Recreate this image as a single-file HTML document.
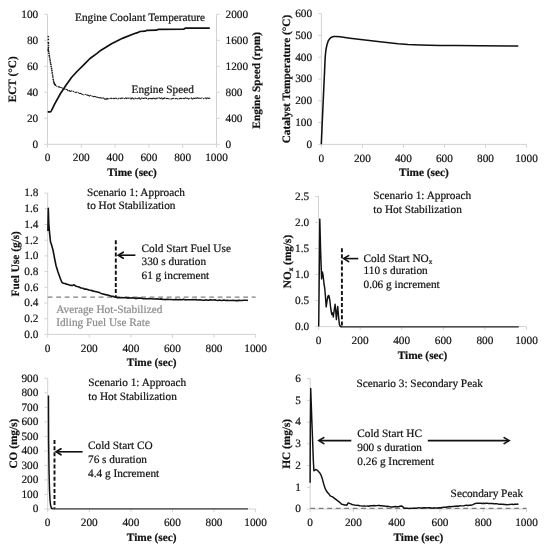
<!DOCTYPE html>
<html><head><meta charset="utf-8"><title>Cold start figure</title>
<style>
html,body{margin:0;padding:0;background:#fff}
svg{display:block}
text{text-rendering:geometricPrecision;stroke:#111;stroke-width:0.2px;font-family:"Liberation Serif",serif;font-size:11.3px;fill:#111}
</style></head>
<body>
<svg width="546" height="550" viewBox="0 0 546 550">
<rect width="546" height="550" fill="#fff"/>
<line x1="47.50" y1="14.30" x2="47.50" y2="144.30" stroke="#d2d2d2" stroke-width="1" />
<line x1="47.50" y1="144.30" x2="216.50" y2="144.30" stroke="#d2d2d2" stroke-width="1" />
<line x1="44.30" y1="144.30" x2="47.50" y2="144.30" stroke="#d2d2d2" stroke-width="1" />
<text x="38.20" y="147.60" text-anchor="end">0</text>
<line x1="44.30" y1="118.30" x2="47.50" y2="118.30" stroke="#d2d2d2" stroke-width="1" />
<text x="38.20" y="121.60" text-anchor="end">20</text>
<line x1="44.30" y1="92.30" x2="47.50" y2="92.30" stroke="#d2d2d2" stroke-width="1" />
<text x="38.20" y="95.60" text-anchor="end">40</text>
<line x1="44.30" y1="66.30" x2="47.50" y2="66.30" stroke="#d2d2d2" stroke-width="1" />
<text x="38.20" y="69.60" text-anchor="end">60</text>
<line x1="44.30" y1="40.30" x2="47.50" y2="40.30" stroke="#d2d2d2" stroke-width="1" />
<text x="38.20" y="43.60" text-anchor="end">80</text>
<line x1="44.30" y1="14.30" x2="47.50" y2="14.30" stroke="#d2d2d2" stroke-width="1" />
<text x="38.20" y="17.60" text-anchor="end">100</text>
<line x1="47.50" y1="144.30" x2="47.50" y2="147.50" stroke="#d2d2d2" stroke-width="1" />
<text x="47.50" y="161.40" text-anchor="middle">0</text>
<line x1="81.30" y1="144.30" x2="81.30" y2="147.50" stroke="#d2d2d2" stroke-width="1" />
<text x="81.30" y="161.40" text-anchor="middle">200</text>
<line x1="115.10" y1="144.30" x2="115.10" y2="147.50" stroke="#d2d2d2" stroke-width="1" />
<text x="115.10" y="161.40" text-anchor="middle">400</text>
<line x1="148.90" y1="144.30" x2="148.90" y2="147.50" stroke="#d2d2d2" stroke-width="1" />
<text x="148.90" y="161.40" text-anchor="middle">600</text>
<line x1="182.70" y1="144.30" x2="182.70" y2="147.50" stroke="#d2d2d2" stroke-width="1" />
<text x="182.70" y="161.40" text-anchor="middle">800</text>
<line x1="216.50" y1="144.30" x2="216.50" y2="147.50" stroke="#d2d2d2" stroke-width="1" />
<text x="216.50" y="161.40" text-anchor="middle">1000</text>
<text x="132.00" y="176.20" text-anchor="middle" font-weight="bold">Time (sec)</text>
<text x="16.30" y="79.30" text-anchor="middle" font-weight="bold" transform="rotate(-90 16.30 79.30)">ECT (°C)</text>
<line x1="216.50" y1="14.30" x2="216.50" y2="144.30" stroke="#d2d2d2" stroke-width="1" />
<line x1="216.50" y1="144.30" x2="219.70" y2="144.30" stroke="#d2d2d2" stroke-width="1" />
<text x="225.50" y="147.60">0</text>
<line x1="216.50" y1="118.30" x2="219.70" y2="118.30" stroke="#d2d2d2" stroke-width="1" />
<text x="225.50" y="121.60">400</text>
<line x1="216.50" y1="92.30" x2="219.70" y2="92.30" stroke="#d2d2d2" stroke-width="1" />
<text x="225.50" y="95.60">800</text>
<line x1="216.50" y1="66.30" x2="219.70" y2="66.30" stroke="#d2d2d2" stroke-width="1" />
<text x="225.50" y="69.60">1200</text>
<line x1="216.50" y1="40.30" x2="219.70" y2="40.30" stroke="#d2d2d2" stroke-width="1" />
<text x="225.50" y="43.60">1600</text>
<line x1="216.50" y1="14.30" x2="219.70" y2="14.30" stroke="#d2d2d2" stroke-width="1" />
<text x="225.50" y="17.60">2000</text>
<text x="260.30" y="80.30" text-anchor="middle" font-weight="bold" transform="rotate(-90 260.30 80.30)">Engine Speed (rpm)</text>
<text x="75.00" y="21.40">Engine Coolant Temperature</text>
<text x="131.50" y="93.00">Engine Speed</text>
<path d="M48.3,36.5h0M48.4,39.4h0M48.3,42.6h0M48.5,45.5h0M48.5,47.6h0M48.2,49.0h0M48.2,50.2h0M48.6,51.2h0M48.5,43.3h0M48.9,53.2h0M49.2,55.4h0M49.5,57.0h0M49.9,59.1h0M50.2,60.8h0M50.5,62.8h0M50.9,64.5h0M51.2,66.6h0M51.6,68.7h0M51.9,70.7h0M52.2,72.9h0M52.6,75.0h0M52.9,76.9h0M53.2,79.3h0M53.6,81.0h0M53.9,82.6h0M54.3,83.2h0M54.6,84.2h0M54.9,84.5h0M55.3,84.8h0" stroke="#1a1a1a" stroke-width="1.7" stroke-linecap="round" fill="none"/>
<path d="M55.6,85.4h0M56.8,86.2h0M58.3,86.9h0M59.2,86.6h0M60.0,87.4h0M61.2,87.6h0M62.4,88.1h0M63.6,88.6h0M64.2,88.9h0M65.1,89.2h0M66.6,89.4h0M67.4,90.0h0M68.1,90.8h0M69.3,90.3h0M70.0,91.4h0M70.7,91.1h0M71.8,90.9h0M73.4,91.4h0M74.9,92.2h0M75.9,92.6h0M76.9,92.2h0M78.4,92.8h0M79.6,93.4h0M80.5,93.3h0M81.5,93.8h0M82.3,94.4h0M83.8,94.8h0M85.4,94.3h0M86.9,95.0h0M87.7,95.2h0M88.7,95.4h0M89.4,96.1h0M90.4,95.3h0M91.9,95.9h0M93.0,96.6h0M94.0,96.6h0M94.7,96.4h0M95.3,96.7h0M96.5,97.1h0M97.5,97.2h0M98.5,97.6h0M99.6,97.8h0M100.2,97.6h0M101.1,98.0h0M102.1,98.1h0M103.3,97.9h0M104.3,98.7h0M105.1,99.3h0M106.0,98.5h0M106.8,99.3h0M107.5,98.5h0M108.3,98.8h0M109.9,98.6h0M110.9,98.2h0M111.9,98.5h0M113.4,98.5h0M114.6,98.5h0M115.8,98.2h0M116.6,98.3h0M118.1,98.9h0M119.0,98.2h0M120.5,98.5h0M121.4,98.2h0M122.4,98.2h0M123.0,98.2h0M124.6,98.6h0M125.7,97.9h0M126.4,98.5h0M127.3,98.1h0M128.5,98.2h0M130.0,98.0h0M131.0,99.0h0M131.7,98.4h0M132.3,98.0h0M133.4,98.6h0M134.0,98.9h0M135.2,98.1h0M136.1,98.5h0M137.6,98.7h0M138.6,98.2h0M139.4,97.9h0M140.1,99.0h0M140.8,98.8h0M141.8,98.0h0M143.0,98.4h0M143.8,98.4h0M144.7,98.1h0M145.9,98.0h0M146.5,98.4h0M148.1,98.9h0M148.7,98.7h0M149.9,98.4h0M151.1,98.7h0M151.9,98.5h0M152.6,98.7h0M153.5,98.1h0M154.5,98.3h0M155.2,98.9h0M156.2,98.1h0M156.8,98.7h0M158.0,98.0h0M159.5,98.0h0M160.7,98.5h0M161.7,97.9h0M162.4,98.9h0M163.4,98.5h0M164.1,98.3h0M164.8,98.0h0M166.3,98.5h0M167.2,98.4h0M168.3,98.7h0M169.9,98.9h0M171.4,98.9h0M172.6,98.5h0M173.7,98.3h0M175.3,98.7h0M176.4,98.3h0M177.6,98.9h0M179.2,98.8h0M180.0,98.3h0M180.8,98.4h0M181.9,98.5h0M183.4,98.4h0M184.6,98.5h0M185.6,97.9h0M186.8,98.2h0M187.8,98.3h0M188.6,98.9h0M189.8,98.3h0M191.3,97.9h0M192.0,98.8h0M192.7,98.9h0M193.5,98.1h0M194.5,98.4h0M195.5,98.2h0M196.2,98.2h0M196.9,98.2h0M197.6,97.8h0M198.6,98.2h0M199.8,98.2h0M200.8,98.3h0M202.0,97.8h0M203.5,98.7h0M205.0,98.2h0M206.0,98.0h0M206.7,98.8h0M207.7,97.9h0M208.7,98.4h0M209.7,98.2h0" stroke="#1a1a1a" stroke-width="1.3" stroke-linecap="round" fill="none"/>
<polyline points="47.70,111.90 50.60,111.90 51.60,110.40 55.00,103.40 60.50,93.50 66.00,85.20 71.50,77.50 77.00,71.50 84.70,63.80 90.00,58.50 96.70,53.60 101.00,50.20 112.00,43.60 123.00,38.10 134.00,33.70 137.50,32.60 138.50,32.30 140.00,31.50 145.00,31.20 147.00,30.30 156.40,30.20 158.50,29.30 183.60,29.20 185.20,28.20 209.80,28.10" fill="none" stroke="#111" stroke-width="1.7" stroke-linejoin="round" />
<line x1="321.40" y1="13.60" x2="321.40" y2="144.40" stroke="#d2d2d2" stroke-width="1" />
<line x1="321.40" y1="144.40" x2="526.50" y2="144.40" stroke="#d2d2d2" stroke-width="1" />
<line x1="318.20" y1="144.40" x2="321.40" y2="144.40" stroke="#d2d2d2" stroke-width="1" />
<text x="312.10" y="147.70" text-anchor="end">0</text>
<line x1="318.20" y1="122.60" x2="321.40" y2="122.60" stroke="#d2d2d2" stroke-width="1" />
<text x="312.10" y="125.90" text-anchor="end">100</text>
<line x1="318.20" y1="100.80" x2="321.40" y2="100.80" stroke="#d2d2d2" stroke-width="1" />
<text x="312.10" y="104.10" text-anchor="end">200</text>
<line x1="318.20" y1="79.00" x2="321.40" y2="79.00" stroke="#d2d2d2" stroke-width="1" />
<text x="312.10" y="82.30" text-anchor="end">300</text>
<line x1="318.20" y1="57.20" x2="321.40" y2="57.20" stroke="#d2d2d2" stroke-width="1" />
<text x="312.10" y="60.50" text-anchor="end">400</text>
<line x1="318.20" y1="35.40" x2="321.40" y2="35.40" stroke="#d2d2d2" stroke-width="1" />
<text x="312.10" y="38.70" text-anchor="end">500</text>
<line x1="318.20" y1="13.60" x2="321.40" y2="13.60" stroke="#d2d2d2" stroke-width="1" />
<text x="312.10" y="16.90" text-anchor="end">600</text>
<line x1="321.40" y1="144.40" x2="321.40" y2="147.60" stroke="#d2d2d2" stroke-width="1" />
<text x="321.40" y="161.50" text-anchor="middle">0</text>
<line x1="362.42" y1="144.40" x2="362.42" y2="147.60" stroke="#d2d2d2" stroke-width="1" />
<text x="362.42" y="161.50" text-anchor="middle">200</text>
<line x1="403.44" y1="144.40" x2="403.44" y2="147.60" stroke="#d2d2d2" stroke-width="1" />
<text x="403.44" y="161.50" text-anchor="middle">400</text>
<line x1="444.46" y1="144.40" x2="444.46" y2="147.60" stroke="#d2d2d2" stroke-width="1" />
<text x="444.46" y="161.50" text-anchor="middle">600</text>
<line x1="485.48" y1="144.40" x2="485.48" y2="147.60" stroke="#d2d2d2" stroke-width="1" />
<text x="485.48" y="161.50" text-anchor="middle">800</text>
<line x1="526.50" y1="144.40" x2="526.50" y2="147.60" stroke="#d2d2d2" stroke-width="1" />
<text x="526.50" y="161.50" text-anchor="middle">1000</text>
<text x="423.95" y="176.30" text-anchor="middle" font-weight="bold">Time (sec)</text>
<text x="290.10" y="79.00" text-anchor="middle" font-weight="bold" transform="rotate(-90 290.10 79.00)">Catalyst Temperature (°C)</text>
<polyline points="321.30,144.20 322.30,121.00 323.30,99.00 324.30,77.00 325.20,57.00 325.90,50.00 326.90,45.00 328.20,41.00 329.80,38.60 331.50,37.20 333.60,36.50 336.00,36.40 340.00,36.80 350.00,38.20 365.00,40.10 380.00,41.80 398.00,43.80 408.00,44.50 420.00,44.90 440.00,45.40 456.50,45.60 480.00,45.80 518.30,46.00" fill="none" stroke="#111" stroke-width="1.55" stroke-linejoin="round" />
<line x1="47.70" y1="193.10" x2="47.70" y2="334.40" stroke="#d2d2d2" stroke-width="1" />
<line x1="47.70" y1="334.40" x2="255.60" y2="334.40" stroke="#d2d2d2" stroke-width="1" />
<line x1="44.50" y1="334.40" x2="47.70" y2="334.40" stroke="#d2d2d2" stroke-width="1" />
<text x="38.40" y="337.70" text-anchor="end">0.0</text>
<line x1="44.50" y1="318.70" x2="47.70" y2="318.70" stroke="#d2d2d2" stroke-width="1" />
<text x="38.40" y="322.00" text-anchor="end">0.2</text>
<line x1="44.50" y1="303.00" x2="47.70" y2="303.00" stroke="#d2d2d2" stroke-width="1" />
<text x="38.40" y="306.30" text-anchor="end">0.4</text>
<line x1="44.50" y1="287.30" x2="47.70" y2="287.30" stroke="#d2d2d2" stroke-width="1" />
<text x="38.40" y="290.60" text-anchor="end">0.6</text>
<line x1="44.50" y1="271.60" x2="47.70" y2="271.60" stroke="#d2d2d2" stroke-width="1" />
<text x="38.40" y="274.90" text-anchor="end">0.8</text>
<line x1="44.50" y1="255.90" x2="47.70" y2="255.90" stroke="#d2d2d2" stroke-width="1" />
<text x="38.40" y="259.20" text-anchor="end">1.0</text>
<line x1="44.50" y1="240.20" x2="47.70" y2="240.20" stroke="#d2d2d2" stroke-width="1" />
<text x="38.40" y="243.50" text-anchor="end">1.2</text>
<line x1="44.50" y1="224.50" x2="47.70" y2="224.50" stroke="#d2d2d2" stroke-width="1" />
<text x="38.40" y="227.80" text-anchor="end">1.4</text>
<line x1="44.50" y1="208.80" x2="47.70" y2="208.80" stroke="#d2d2d2" stroke-width="1" />
<text x="38.40" y="212.10" text-anchor="end">1.6</text>
<line x1="44.50" y1="193.10" x2="47.70" y2="193.10" stroke="#d2d2d2" stroke-width="1" />
<text x="38.40" y="196.40" text-anchor="end">1.8</text>
<line x1="47.70" y1="334.40" x2="47.70" y2="337.60" stroke="#d2d2d2" stroke-width="1" />
<text x="47.70" y="351.50" text-anchor="middle">0</text>
<line x1="89.28" y1="334.40" x2="89.28" y2="337.60" stroke="#d2d2d2" stroke-width="1" />
<text x="89.28" y="351.50" text-anchor="middle">200</text>
<line x1="130.86" y1="334.40" x2="130.86" y2="337.60" stroke="#d2d2d2" stroke-width="1" />
<text x="130.86" y="351.50" text-anchor="middle">400</text>
<line x1="172.44" y1="334.40" x2="172.44" y2="337.60" stroke="#d2d2d2" stroke-width="1" />
<text x="172.44" y="351.50" text-anchor="middle">600</text>
<line x1="214.02" y1="334.40" x2="214.02" y2="337.60" stroke="#d2d2d2" stroke-width="1" />
<text x="214.02" y="351.50" text-anchor="middle">800</text>
<line x1="255.60" y1="334.40" x2="255.60" y2="337.60" stroke="#d2d2d2" stroke-width="1" />
<text x="255.60" y="351.50" text-anchor="middle">1000</text>
<text x="151.65" y="366.30" text-anchor="middle" font-weight="bold">Time (sec)</text>
<text x="19.00" y="263.75" text-anchor="middle" font-weight="bold" transform="rotate(-90 19.00 263.75)">Fuel Use (g/s)</text>
<line x1="47.70" y1="297.20" x2="255.60" y2="297.20" stroke="#808080" stroke-width="1.3" stroke-dasharray="4.8 3.7"/>
<text x="56.20" y="312.80" style="fill:#8c8c8c;stroke:#8c8c8c">Average Hot-Stabilized</text>
<text x="56.20" y="326.10" style="fill:#8c8c8c;stroke:#8c8c8c">Idling Fuel Use Rate</text>
<text x="87.00" y="195.80">Scenario 1: Approach</text>
<text x="87.00" y="208.90">to Hot Stabilization</text>
<text x="141.50" y="251.50">Cold Start Fuel Use</text>
<text x="141.50" y="264.90">330 s duration</text>
<text x="141.50" y="278.50">61 g increment</text>
<line x1="115.80" y1="240.30" x2="115.80" y2="297.20" stroke="#111" stroke-width="1.9" stroke-dasharray="4 2.1"/>
<line x1="118.80" y1="255.20" x2="135.40" y2="255.20" stroke="#111" stroke-width="1.6" />
<polyline points="123.20,252.20 118.30,255.20 123.20,258.20" fill="none" stroke="#111" stroke-width="1.7" stroke-linecap="round" stroke-linejoin="miter"/>
<polyline points="47.90,231.00 48.30,208.20 48.80,224.00 49.50,232.00 50.50,241.80 51.60,245.00 53.00,250.00 54.50,258.00 56.00,265.50 58.00,272.00 60.50,279.00 62.00,282.50 63.50,283.17 65.00,283.47 66.50,284.15 68.00,284.44 69.50,285.01 71.00,285.41 72.50,285.49 74.00,284.81 75.50,285.91 77.00,286.50 78.50,286.72 80.00,287.63 81.50,288.02 83.00,288.22 84.50,289.17 86.00,289.03 87.50,289.49 89.00,290.06 90.50,290.32 92.00,290.63 93.50,291.14 95.00,291.47 96.50,291.84 98.00,292.21 99.50,292.59 101.00,293.40 102.50,293.84 104.00,294.13 105.50,294.66 107.00,294.84 108.50,295.20 110.00,295.68 111.50,296.39 113.00,296.28 114.50,296.93 116.00,297.15 117.50,297.65 119.00,297.59 120.50,297.68 122.00,297.66 123.50,297.68 125.00,297.76 126.50,297.66 128.00,298.11 129.50,297.82 131.00,297.98 132.50,297.91 134.00,297.95 135.50,298.38 137.00,298.38 138.50,298.08 140.00,298.11 141.50,298.32 143.00,298.60 144.50,298.71 146.00,298.75 147.50,298.73 149.00,298.54 150.50,298.76 152.00,298.68 153.50,298.93 155.00,299.01 156.50,298.84 158.00,298.92 159.50,299.29 161.00,298.88 162.50,299.40 164.00,299.50 165.50,299.58 167.00,299.27 168.50,299.40 170.00,299.45 171.50,299.51 173.00,299.75 174.50,299.60 176.00,299.40 177.50,299.77 179.00,299.57 180.50,299.67 182.00,299.77 183.50,299.35 185.00,299.84 186.50,299.79 188.00,299.72 189.50,299.76 191.00,299.74 192.50,299.60 194.00,299.83 195.50,299.55 197.00,299.86 198.50,299.97 200.00,299.87 201.50,299.96 203.00,300.22 204.50,300.20 206.00,299.77 207.50,300.19 209.00,300.11 210.50,299.79 212.00,300.00 213.50,299.94 215.00,299.87 216.50,300.17 218.00,300.43 219.50,300.09 221.00,300.43 222.50,300.34 224.00,300.02 225.50,300.47 227.00,300.34 228.50,300.55 230.00,300.44 231.50,300.47 233.00,300.25 234.50,300.54 236.00,300.63 237.50,300.60 239.00,300.37 240.50,300.57 242.00,300.43 243.50,300.22 245.00,300.19 246.50,300.23 248.00,300.50" fill="none" stroke="#111" stroke-width="1.6" stroke-linejoin="round" />
<line x1="318.50" y1="196.40" x2="318.50" y2="326.60" stroke="#d2d2d2" stroke-width="1" />
<line x1="318.50" y1="326.60" x2="526.50" y2="326.60" stroke="#d2d2d2" stroke-width="1" />
<line x1="315.30" y1="326.60" x2="318.50" y2="326.60" stroke="#d2d2d2" stroke-width="1" />
<text x="309.20" y="329.90" text-anchor="end">0.0</text>
<line x1="315.30" y1="300.56" x2="318.50" y2="300.56" stroke="#d2d2d2" stroke-width="1" />
<text x="309.20" y="303.86" text-anchor="end">0.5</text>
<line x1="315.30" y1="274.52" x2="318.50" y2="274.52" stroke="#d2d2d2" stroke-width="1" />
<text x="309.20" y="277.82" text-anchor="end">1.0</text>
<line x1="315.30" y1="248.48" x2="318.50" y2="248.48" stroke="#d2d2d2" stroke-width="1" />
<text x="309.20" y="251.78" text-anchor="end">1.5</text>
<line x1="315.30" y1="222.44" x2="318.50" y2="222.44" stroke="#d2d2d2" stroke-width="1" />
<text x="309.20" y="225.74" text-anchor="end">2.0</text>
<line x1="315.30" y1="196.40" x2="318.50" y2="196.40" stroke="#d2d2d2" stroke-width="1" />
<text x="309.20" y="199.70" text-anchor="end">2.5</text>
<line x1="318.50" y1="326.60" x2="318.50" y2="329.80" stroke="#d2d2d2" stroke-width="1" />
<text x="318.50" y="343.70" text-anchor="middle">0</text>
<line x1="360.10" y1="326.60" x2="360.10" y2="329.80" stroke="#d2d2d2" stroke-width="1" />
<text x="360.10" y="343.70" text-anchor="middle">200</text>
<line x1="401.70" y1="326.60" x2="401.70" y2="329.80" stroke="#d2d2d2" stroke-width="1" />
<text x="401.70" y="343.70" text-anchor="middle">400</text>
<line x1="443.30" y1="326.60" x2="443.30" y2="329.80" stroke="#d2d2d2" stroke-width="1" />
<text x="443.30" y="343.70" text-anchor="middle">600</text>
<line x1="484.90" y1="326.60" x2="484.90" y2="329.80" stroke="#d2d2d2" stroke-width="1" />
<text x="484.90" y="343.70" text-anchor="middle">800</text>
<line x1="526.50" y1="326.60" x2="526.50" y2="329.80" stroke="#d2d2d2" stroke-width="1" />
<text x="526.50" y="343.70" text-anchor="middle">1000</text>
<text x="422.50" y="358.50" text-anchor="middle" font-weight="bold">Time (sec)</text>
<text x="290.50" y="261.50" text-anchor="middle" font-weight="bold" transform="rotate(-90 290.50 261.50)">NO<tspan font-size="7.2" dy="2.2">x</tspan><tspan dy="-2.2"> (mg/s)</tspan></text>
<text x="373.30" y="198.80">Scenario 1: Approach</text>
<text x="373.30" y="212.90">to Hot Stabilization</text>
<text x="363.50" y="261.60">Cold Start NO<tspan font-size="7.2" dy="2.2">x</tspan></text>
<text x="363.50" y="274.20">110 s duration</text>
<text x="363.50" y="288.10">0.06 g increment</text>
<line x1="341.90" y1="248.20" x2="341.90" y2="326.60" stroke="#111" stroke-width="1.9" stroke-dasharray="4 2.1"/>
<line x1="344.20" y1="258.60" x2="358.30" y2="258.60" stroke="#111" stroke-width="1.6" />
<polyline points="348.60,255.60 343.70,258.60 348.60,261.60" fill="none" stroke="#111" stroke-width="1.7" stroke-linecap="round" stroke-linejoin="miter"/>
<polyline points="318.70,326.50 319.00,300.00 319.80,219.10 320.60,250.00 321.60,278.90 322.40,272.00 323.20,276.00 324.00,284.00 324.70,287.80 325.40,296.00 326.20,306.90 327.20,300.00 328.00,296.00 328.80,295.40 329.80,300.00 330.80,309.00 331.80,314.50 332.60,313.00 333.30,317.00 334.20,310.00 335.10,304.30 335.80,312.00 336.40,319.60 337.00,312.00 337.70,306.40 338.40,315.00 339.40,324.70 340.50,326.50 342.00,326.80" fill="none" stroke="#111" stroke-width="1.45" stroke-linejoin="round" />
<line x1="341.50" y1="326.80" x2="518.80" y2="326.80" stroke="#222" stroke-width="1.3" />
<line x1="47.70" y1="378.30" x2="47.70" y2="509.00" stroke="#d2d2d2" stroke-width="1" />
<line x1="47.70" y1="509.00" x2="255.60" y2="509.00" stroke="#d2d2d2" stroke-width="1" />
<line x1="44.50" y1="509.00" x2="47.70" y2="509.00" stroke="#d2d2d2" stroke-width="1" />
<text x="38.40" y="512.30" text-anchor="end">0</text>
<line x1="44.50" y1="494.48" x2="47.70" y2="494.48" stroke="#d2d2d2" stroke-width="1" />
<text x="38.40" y="497.78" text-anchor="end">100</text>
<line x1="44.50" y1="479.96" x2="47.70" y2="479.96" stroke="#d2d2d2" stroke-width="1" />
<text x="38.40" y="483.26" text-anchor="end">200</text>
<line x1="44.50" y1="465.43" x2="47.70" y2="465.43" stroke="#d2d2d2" stroke-width="1" />
<text x="38.40" y="468.73" text-anchor="end">300</text>
<line x1="44.50" y1="450.91" x2="47.70" y2="450.91" stroke="#d2d2d2" stroke-width="1" />
<text x="38.40" y="454.21" text-anchor="end">400</text>
<line x1="44.50" y1="436.39" x2="47.70" y2="436.39" stroke="#d2d2d2" stroke-width="1" />
<text x="38.40" y="439.69" text-anchor="end">500</text>
<line x1="44.50" y1="421.87" x2="47.70" y2="421.87" stroke="#d2d2d2" stroke-width="1" />
<text x="38.40" y="425.17" text-anchor="end">600</text>
<line x1="44.50" y1="407.34" x2="47.70" y2="407.34" stroke="#d2d2d2" stroke-width="1" />
<text x="38.40" y="410.64" text-anchor="end">700</text>
<line x1="44.50" y1="392.82" x2="47.70" y2="392.82" stroke="#d2d2d2" stroke-width="1" />
<text x="38.40" y="396.12" text-anchor="end">800</text>
<line x1="44.50" y1="378.30" x2="47.70" y2="378.30" stroke="#d2d2d2" stroke-width="1" />
<text x="38.40" y="381.60" text-anchor="end">900</text>
<line x1="47.70" y1="509.00" x2="47.70" y2="512.20" stroke="#d2d2d2" stroke-width="1" />
<text x="47.70" y="526.10" text-anchor="middle">0</text>
<line x1="89.28" y1="509.00" x2="89.28" y2="512.20" stroke="#d2d2d2" stroke-width="1" />
<text x="89.28" y="526.10" text-anchor="middle">200</text>
<line x1="130.86" y1="509.00" x2="130.86" y2="512.20" stroke="#d2d2d2" stroke-width="1" />
<text x="130.86" y="526.10" text-anchor="middle">400</text>
<line x1="172.44" y1="509.00" x2="172.44" y2="512.20" stroke="#d2d2d2" stroke-width="1" />
<text x="172.44" y="526.10" text-anchor="middle">600</text>
<line x1="214.02" y1="509.00" x2="214.02" y2="512.20" stroke="#d2d2d2" stroke-width="1" />
<text x="214.02" y="526.10" text-anchor="middle">800</text>
<line x1="255.60" y1="509.00" x2="255.60" y2="512.20" stroke="#d2d2d2" stroke-width="1" />
<text x="255.60" y="526.10" text-anchor="middle">1000</text>
<text x="151.65" y="540.90" text-anchor="middle" font-weight="bold">Time (sec)</text>
<text x="17.50" y="443.65" text-anchor="middle" font-weight="bold" transform="rotate(-90 17.50 443.65)">CO (mg/s)</text>
<text x="88.30" y="385.80">Scenario 1: Approach</text>
<text x="88.30" y="400.10">to Hot Stabilization</text>
<text x="88.00" y="448.60">Cold Start CO</text>
<text x="88.00" y="462.80">76 s duration</text>
<text x="88.00" y="476.70">4.4 g Increment</text>
<line x1="54.50" y1="440.10" x2="54.50" y2="509.00" stroke="#111" stroke-width="1.9" stroke-dasharray="4 2.1"/>
<line x1="56.60" y1="451.80" x2="82.60" y2="451.80" stroke="#111" stroke-width="1.6" />
<polyline points="61.00,448.80 56.10,451.80 61.00,454.80" fill="none" stroke="#111" stroke-width="1.7" stroke-linecap="round" stroke-linejoin="miter"/>
<polyline points="48.45,395.60 48.60,440.00 49.00,470.00 49.50,490.00 50.00,500.00 50.60,505.50 51.50,508.20 53.00,508.80" fill="none" stroke="#111" stroke-width="1.5" stroke-linejoin="round" />
<line x1="52.50" y1="508.85" x2="248.00" y2="508.85" stroke="#3a3a3a" stroke-width="1.25" />
<line x1="310.20" y1="378.60" x2="310.20" y2="509.00" stroke="#d2d2d2" stroke-width="1" />
<line x1="310.20" y1="509.00" x2="526.50" y2="509.00" stroke="#d2d2d2" stroke-width="1" />
<line x1="307.00" y1="509.00" x2="310.20" y2="509.00" stroke="#d2d2d2" stroke-width="1" />
<text x="300.90" y="512.30" text-anchor="end">0</text>
<line x1="307.00" y1="487.27" x2="310.20" y2="487.27" stroke="#d2d2d2" stroke-width="1" />
<text x="300.90" y="490.57" text-anchor="end">1</text>
<line x1="307.00" y1="465.53" x2="310.20" y2="465.53" stroke="#d2d2d2" stroke-width="1" />
<text x="300.90" y="468.83" text-anchor="end">2</text>
<line x1="307.00" y1="443.80" x2="310.20" y2="443.80" stroke="#d2d2d2" stroke-width="1" />
<text x="300.90" y="447.10" text-anchor="end">3</text>
<line x1="307.00" y1="422.07" x2="310.20" y2="422.07" stroke="#d2d2d2" stroke-width="1" />
<text x="300.90" y="425.37" text-anchor="end">4</text>
<line x1="307.00" y1="400.33" x2="310.20" y2="400.33" stroke="#d2d2d2" stroke-width="1" />
<text x="300.90" y="403.63" text-anchor="end">5</text>
<line x1="307.00" y1="378.60" x2="310.20" y2="378.60" stroke="#d2d2d2" stroke-width="1" />
<text x="300.90" y="381.90" text-anchor="end">6</text>
<line x1="310.20" y1="509.00" x2="310.20" y2="512.20" stroke="#d2d2d2" stroke-width="1" />
<text x="310.20" y="526.10" text-anchor="middle">0</text>
<line x1="353.46" y1="509.00" x2="353.46" y2="512.20" stroke="#d2d2d2" stroke-width="1" />
<text x="353.46" y="526.10" text-anchor="middle">200</text>
<line x1="396.72" y1="509.00" x2="396.72" y2="512.20" stroke="#d2d2d2" stroke-width="1" />
<text x="396.72" y="526.10" text-anchor="middle">400</text>
<line x1="439.98" y1="509.00" x2="439.98" y2="512.20" stroke="#d2d2d2" stroke-width="1" />
<text x="439.98" y="526.10" text-anchor="middle">600</text>
<line x1="483.24" y1="509.00" x2="483.24" y2="512.20" stroke="#d2d2d2" stroke-width="1" />
<text x="483.24" y="526.10" text-anchor="middle">800</text>
<line x1="526.50" y1="509.00" x2="526.50" y2="512.20" stroke="#d2d2d2" stroke-width="1" />
<text x="526.50" y="526.10" text-anchor="middle">1000</text>
<text x="418.35" y="540.90" text-anchor="middle" font-weight="bold">Time (sec)</text>
<text x="290.30" y="443.80" text-anchor="middle" font-weight="bold" transform="rotate(-90 290.30 443.80)">HC (mg/s)</text>
<line x1="310.20" y1="508.30" x2="526.50" y2="508.30" stroke="#7c7c7c" stroke-width="1.3" stroke-dasharray="4.8 3.7"/>
<text x="356.40" y="386.70">Scenario 3: Secondary Peak</text>
<text x="357.30" y="437.40">Cold Start HC</text>
<text x="357.30" y="451.20">900 s duration</text>
<text x="357.30" y="464.50">0.26 g Increment</text>
<text x="450.60" y="496.90">Secondary Peak</text>
<line x1="319.40" y1="440.60" x2="351.30" y2="440.60" stroke="#111" stroke-width="1.6" />
<polyline points="323.80,437.60 318.90,440.60 323.80,443.60" fill="none" stroke="#111" stroke-width="1.7" stroke-linecap="round" stroke-linejoin="miter"/>
<line x1="508.60" y1="440.60" x2="427.80" y2="440.60" stroke="#111" stroke-width="1.6" />
<polyline points="504.20,437.60 509.10,440.60 504.20,443.60" fill="none" stroke="#111" stroke-width="1.7" stroke-linecap="round" stroke-linejoin="miter"/>
<polyline points="310.10,482.80 310.30,430.00 310.70,388.50 311.30,405.00 312.00,424.50 312.70,443.00 313.30,460.00 313.90,470.80 314.40,470.48 315.70,469.54 317.00,470.10 318.30,471.34 319.60,472.72 320.90,474.78 322.20,478.38 323.50,483.26 324.80,487.64 326.10,490.47 327.40,492.37 328.70,493.67 330.00,495.58 331.30,496.30 332.60,496.93 333.90,497.84 335.20,498.84 336.50,499.87 337.80,500.91 339.10,501.87 340.40,503.02 341.70,504.24 343.00,504.45 344.30,505.00 345.60,505.05 346.90,505.20 348.20,502.91 349.50,503.38 350.80,503.89 352.10,504.49 353.40,504.90 354.70,505.09 356.00,505.40 357.30,505.34 358.60,505.45 359.90,505.77 361.20,505.88 362.50,506.11 363.80,505.87 365.10,506.08 366.40,506.13 367.70,505.93 369.00,506.24 370.30,505.80 371.60,505.64 372.90,505.70 374.20,505.55 375.50,505.75 376.80,505.63 378.10,505.53 379.40,505.50 380.70,505.80 382.00,505.60 383.30,506.00 384.60,506.03 385.90,506.41 387.20,506.31 388.50,506.46 389.80,506.65 391.10,507.07 392.40,506.98 393.70,506.74 395.00,506.51 396.30,506.67 397.60,506.77 398.90,506.57 400.20,506.24 401.50,505.99 402.80,506.71 404.10,508.25 405.40,508.17 406.70,508.15 408.00,508.40 409.30,508.48 410.60,508.11 411.90,508.39 413.20,508.11 414.50,508.19 415.80,508.18 417.10,508.17 418.40,507.75 419.70,507.85 421.00,507.96 422.30,508.09 423.60,507.69 424.90,507.76 426.20,507.98 427.50,507.64 428.80,507.77 430.10,507.78 431.40,507.96 432.70,508.11 434.00,507.81 435.30,508.09 436.60,508.05 437.90,508.00 439.20,507.77 440.50,507.83 441.80,507.45 443.10,507.33 444.40,507.10 445.70,507.19 447.00,506.92 448.30,506.68 449.60,506.52 450.90,506.68 452.20,506.54 453.50,506.51 454.80,506.28 456.10,506.24 457.40,506.01 458.70,506.18 460.00,505.79 461.30,505.87 462.60,505.89 463.90,505.74 465.20,505.38 466.50,505.33 467.80,505.47 469.10,505.25 470.40,505.23 471.70,505.09 473.00,504.68 474.30,503.90 475.60,503.43 476.90,503.24 478.20,503.27 479.50,503.15 480.80,503.31 482.10,503.57 483.40,503.21 484.70,503.43 486.00,503.25 487.30,503.28 488.60,503.56 489.90,503.41 491.20,503.36 492.50,503.44 493.80,503.76 495.10,503.84 496.40,503.69 497.70,503.89 499.00,504.32 500.30,504.09 501.60,504.31 502.90,504.31 504.20,504.53 505.50,504.52 506.80,504.67 508.10,504.61 509.40,504.43 510.70,504.39 512.00,504.31 513.30,504.58 514.60,504.20 515.90,504.10 517.20,504.31 518.50,503.90" fill="none" stroke="#111" stroke-width="1.45" stroke-linejoin="round" />
</svg>
</body></html>
